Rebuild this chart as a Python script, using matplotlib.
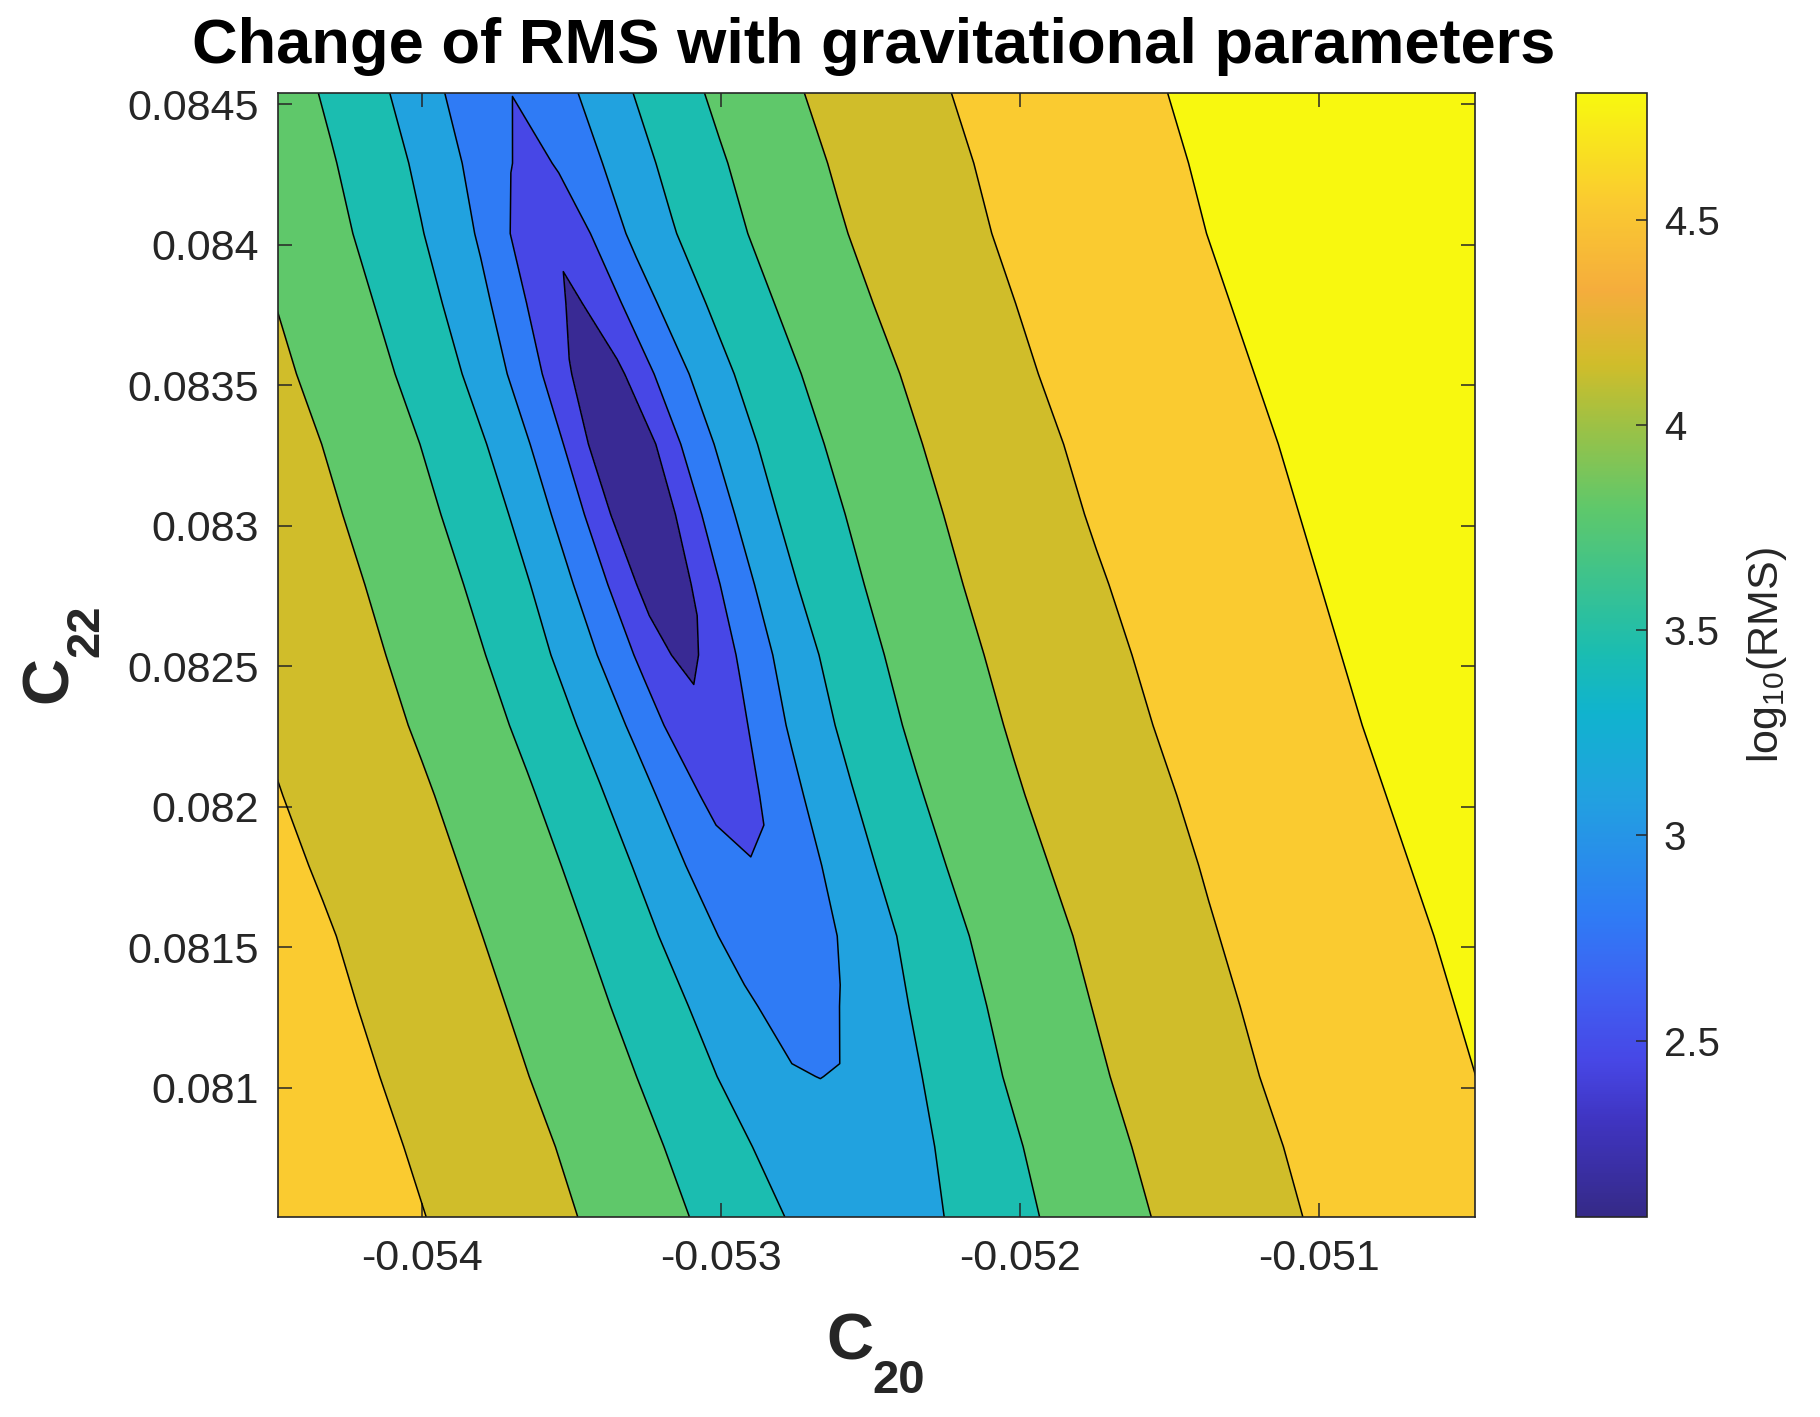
import numpy as np
import matplotlib
matplotlib.use("Agg")
import matplotlib.pyplot as plt
from matplotlib.colors import LinearSegmentedColormap, Normalize
from matplotlib.cm import ScalarMappable

plt.rcParams['font.family'] = ['Liberation Sans', 'DejaVu Sans']
plt.rcParams['mathtext.fontset'] = 'custom'
plt.rcParams['mathtext.rm'] = 'Liberation Sans'
plt.rcParams['mathtext.bf'] = 'Liberation Sans:bold'
plt.rcParams['mathtext.it'] = 'Liberation Sans:italic'
plt.rcParams['axes.unicode_minus'] = False

# ---------------- data ----------------
# C22 rows, top to bottom
c22_values = [0.08454, 0.08429, 0.08404, 0.08379, 0.08354, 0.08329, 0.08304, 0.08279, 0.08254,
              0.08229, 0.08204, 0.08179, 0.08154, 0.08129, 0.08104, 0.08079, 0.08054]
# C20 of the RMS valley floor on each C22 row
valley_c20 = [-0.05370, -0.05363, -0.05357, -0.05349, -0.05341, -0.05333, -0.05326, -0.05319, -0.05312,
              -0.05305, -0.05297, -0.05289, -0.05281, -0.05274, -0.05267, -0.05259, -0.05252]
# sample points along each row, as C20 offset from the valley floor
c20_offset = [-0.00220, -0.00148, -0.00099, -0.00065, -0.00042, -0.00026, -0.00016, -0.00008, 0.0,
              0.00008, 0.00016, 0.00026, 0.00042, 0.00065, 0.00099, 0.00148, 0.00220, 0.00267, 0.00330]

log_rms_c22_08454 = [4.508, 4.207, 3.906, 3.598, 3.309, 3.059, 2.855, 2.728, 2.685, 2.728, 2.855, 3.059, 3.309, 3.598, 3.906, 4.207, 4.508, 4.645, 4.834]
log_rms_c22_08429 = [4.508, 4.204, 3.899, 3.589, 3.300, 3.029, 2.849, 2.703, 2.563, 2.703, 2.849, 3.029, 3.300, 3.589, 3.899, 4.204, 4.508, 4.645, 4.831]
log_rms_c22_08404 = [4.508, 4.204, 3.893, 3.583, 3.285, 3.001, 2.752, 2.527, 2.438, 2.527, 2.752, 3.001, 3.285, 3.583, 3.893, 4.204, 4.508, 4.645, 4.831]
log_rms_c22_08379 = [4.508, 4.204, 3.890, 3.574, 3.260, 2.947, 2.682, 2.475, 2.320, 2.475, 2.682, 2.947, 3.260, 3.574, 3.890, 4.204, 4.508, 4.645, 4.831]
log_rms_c22_08354 = [4.508, 4.207, 3.884, 3.565, 3.239, 2.886, 2.603, 2.347, 2.216, 2.347, 2.603, 2.886, 3.239, 3.565, 3.884, 4.207, 4.508, 4.645, 4.831]
log_rms_c22_08329 = [4.508, 4.204, 3.887, 3.568, 3.242, 2.874, 2.569, 2.240, 2.070, 2.240, 2.569, 2.874, 3.242, 3.568, 3.887, 4.204, 4.508, 4.645, 4.831]
log_rms_c22_08304 = [4.508, 4.204, 3.887, 3.568, 3.248, 2.874, 2.569, 2.268, 2.131, 2.268, 2.569, 2.874, 3.248, 3.568, 3.887, 4.204, 4.508, 4.645, 4.831]
log_rms_c22_08279 = [4.508, 4.198, 3.890, 3.574, 3.251, 2.886, 2.600, 2.338, 2.237, 2.338, 2.600, 2.886, 3.251, 3.574, 3.890, 4.198, 4.508, 4.645, 4.831]
log_rms_c22_08254 = [4.508, 4.195, 3.890, 3.577, 3.248, 2.913, 2.651, 2.420, 2.314, 2.420, 2.651, 2.913, 3.248, 3.577, 3.890, 4.195, 4.508, 4.645, 4.831]
log_rms_c22_08229 = [4.508, 4.195, 3.893, 3.586, 3.272, 2.968, 2.728, 2.530, 2.457, 2.530, 2.728, 2.968, 3.272, 3.586, 3.893, 4.195, 4.508, 4.645, 4.831]
log_rms_c22_08204 = [4.508, 4.195, 3.899, 3.595, 3.291, 3.011, 2.804, 2.639, 2.575, 2.639, 2.804, 3.011, 3.291, 3.595, 3.899, 4.195, 4.508, 4.645, 4.831]
log_rms_c22_08179 = [4.508, 4.198, 3.899, 3.601, 3.309, 3.050, 2.846, 2.734, 2.694, 2.734, 2.846, 3.050, 3.309, 3.601, 3.899, 4.198, 4.508, 4.645, 4.831]
log_rms_c22_08154 = [4.508, 4.204, 3.899, 3.604, 3.321, 3.084, 2.919, 2.822, 2.788, 2.822, 2.919, 3.084, 3.321, 3.604, 3.899, 4.204, 4.508, 4.645, 4.831]
log_rms_c22_08129 = [4.508, 4.204, 3.906, 3.616, 3.355, 3.148, 3.011, 2.916, 2.886, 2.916, 3.011, 3.148, 3.355, 3.616, 3.906, 4.204, 4.508, 4.645, 4.831]
log_rms_c22_08104 = [4.508, 4.207, 3.912, 3.632, 3.391, 3.178, 3.053, 2.998, 2.980, 2.998, 3.053, 3.178, 3.391, 3.632, 3.912, 4.207, 4.508, 4.645, 4.831]
log_rms_c22_08079 = [4.508, 4.207, 3.918, 3.641, 3.415, 3.239, 3.138, 3.093, 3.078, 3.093, 3.138, 3.239, 3.415, 3.641, 3.918, 4.207, 4.508, 4.645, 4.831]
log_rms_c22_08054 = [4.508, 4.210, 3.921, 3.653, 3.437, 3.282, 3.208, 3.178, 3.166, 3.178, 3.208, 3.282, 3.437, 3.653, 3.921, 4.210, 4.508, 4.645, 4.831]

contour_levels = [2.374, 2.679, 2.983, 3.288, 3.592, 3.896, 4.201, 4.505]
colorbar_range = [2.07, 4.81]
c20_limits = [-0.05448, -0.05048]
c22_limits = [0.08054, 0.08454]

x_ticks = [-0.054, -0.053, -0.052, -0.051]
x_tick_labels = ['-0.054', '-0.053', '-0.052', '-0.051']
y_ticks = [0.081, 0.0815, 0.082, 0.0825, 0.083, 0.0835, 0.084, 0.0845]
y_tick_labels = ['0.081', '0.0815', '0.082', '0.0825', '0.083', '0.0835', '0.084', '0.0845']
cbar_ticks = [2.5, 3.0, 3.5, 4.0, 4.5]
cbar_tick_labels = ['2.5', '3', '3.5', '4', '4.5']

# ---------------- styling ----------------
fill_colors = ['#392A94', '#4747E6', '#2F7BF5', '#21A2DF', '#1BBDB0',
               '#5FC86A', '#D0BD2A', '#FACB30', '#F8F80F']
cbar_anchor_values = [2.07, 2.30, 2.45, 2.62, 2.80, 3.10, 3.30, 3.45, 3.80, 4.00, 4.15, 4.33, 4.55, 4.81]
cbar_anchor_colors = ['#352A87', '#3F34C0', '#4747E6', '#3F60F2', '#2F7BF5', '#21A2DF', '#10B3CE',
                      '#1BBDB0', '#5FC86A', '#9DC145', '#D0BD2A', '#F5AD3C', '#FACB30', '#F8F80F']
axis_gray = '#262626'
W, H = 1820, 1417

Z = np.array([log_rms_c22_08454, log_rms_c22_08429, log_rms_c22_08404, log_rms_c22_08379,
              log_rms_c22_08354, log_rms_c22_08329, log_rms_c22_08304, log_rms_c22_08279,
              log_rms_c22_08254, log_rms_c22_08229, log_rms_c22_08204, log_rms_c22_08179,
              log_rms_c22_08154, log_rms_c22_08129, log_rms_c22_08104, log_rms_c22_08079,
              log_rms_c22_08054])
X = np.add.outer(np.array(valley_c20), np.array(c20_offset))
Y = np.repeat(np.array(c22_values)[:, None], len(c20_offset), axis=1)

fig = plt.figure(figsize=(W / 100, H / 100), dpi=100)
ax = fig.add_axes([278 / W, 1 - 1217 / H, (1475 - 278) / W, (1217 - 93) / H])

bounds = [Z.min() - 0.05] + contour_levels + [Z.max() + 0.05]
ax.contourf(X, Y, Z, levels=bounds, colors=fill_colors, antialiased=False)
ax.contour(X, Y, Z, levels=contour_levels, colors='black', linewidths=1.1)

ax.set_xlim(*c20_limits)
ax.set_ylim(*c22_limits)
ax.set_xticks(x_ticks)
ax.set_xticklabels(x_tick_labels)
ax.set_yticks(y_ticks)
ax.set_yticklabels(y_tick_labels)
ax.tick_params(direction='in', length=10, width=1.1, top=True, right=True,
               labelsize=31, colors=axis_gray, labelcolor=axis_gray)
ax.tick_params(axis='x', pad=16)
ax.tick_params(axis='y', pad=14)
for s in ax.spines.values():
    s.set_color(axis_gray)
    s.set_linewidth(1.2)

# title and axis labels (C with lowered subscripts, as in the reference)
fig.text(873.6 / W, 1 - 63 / H, 'Change of RMS with gravitational parameters',
         fontsize=45.5, fontweight='bold', ha='center', va='baseline', color='black')
fig.text(826 / W, 1 - 1360 / H, 'C', fontsize=47, fontweight='bold',
         ha='left', va='baseline', color=axis_gray)
fig.text(872 / W, 1 - 1393 / H, '20', fontsize=34, fontweight='bold',
         ha='left', va='baseline', color=axis_gray)
fig.text(67 / W, 1 - 703 / H, 'C', fontsize=47, fontweight='bold', rotation=90,
         rotation_mode='anchor', ha='left', va='baseline', color=axis_gray)
fig.text(98 / W, 1 - 657 / H, '22', fontsize=34, fontweight='bold', rotation=90,
         rotation_mode='anchor', ha='left', va='baseline', color=axis_gray)

cmap = LinearSegmentedColormap.from_list(
    'parula_like',
    [((v - colorbar_range[0]) / (colorbar_range[1] - colorbar_range[0]), c)
     for v, c in zip(cbar_anchor_values, cbar_anchor_colors)], N=512)
cax = fig.add_axes([1576 / W, 1 - 1217 / H, (1647 - 1576) / W, (1217 - 93) / H])
sm = ScalarMappable(norm=Normalize(*colorbar_range), cmap=cmap)
cb = fig.colorbar(sm, cax=cax)
cb.set_ticks(cbar_ticks)
cb.set_ticklabels(cbar_tick_labels)
cb.ax.tick_params(direction='in', length=8, width=1.1, labelsize=29,
                  colors=axis_gray, labelcolor=axis_gray, pad=12)
cb.outline.set_edgecolor(axis_gray)
cb.outline.set_linewidth(1.2)
cb.set_label(r'log$_{10}$(RMS)', fontsize=31, labelpad=18, color=axis_gray)

fig.savefig('out.png', dpi=100, facecolor='white')
